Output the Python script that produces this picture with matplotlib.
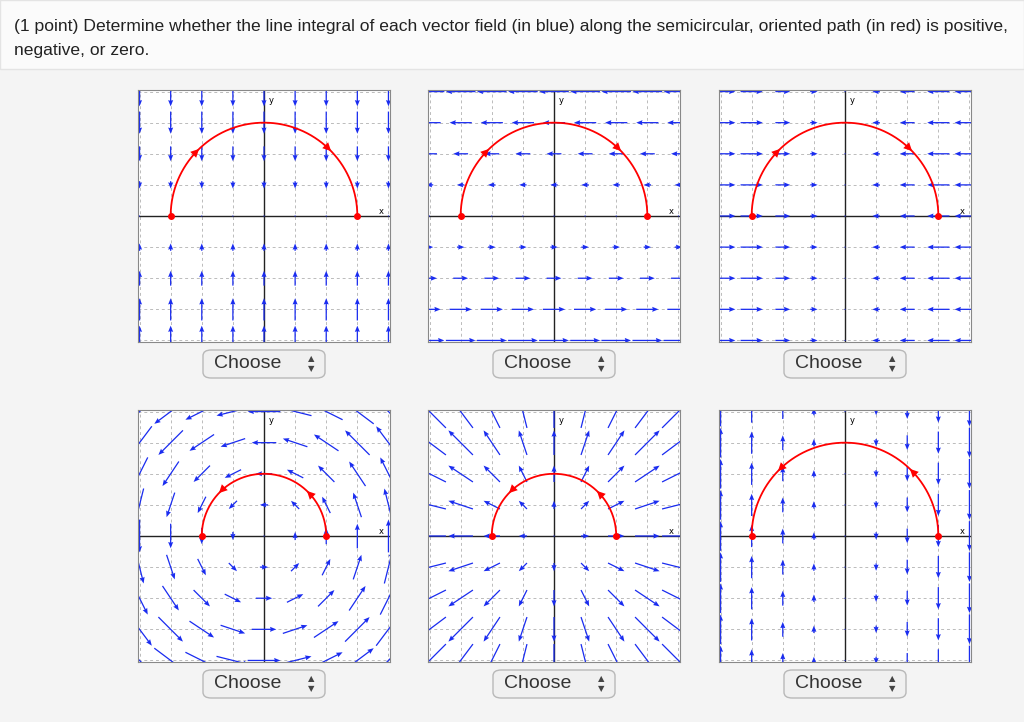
import numpy as np
import matplotlib
matplotlib.use('Agg')
import matplotlib.pyplot as plt
from matplotlib.patches import FancyBboxPatch, Rectangle

W, H = 1024, 722

# field coefficients: u = a*x + b*y, v = c*x + d*y
FIELD_U = [(0, 0), (0, -1), (-1, 0), (0, -1), (1, 0), (0, 0)]
FIELD_V = [(0, -1), (0, 0), (0, 0), (1, 0), (0, 1), (-1, 0)]
RADIUS = [3, 3, 3, 2, 2, 3]
CLOCKWISE = [True, True, True, False, False, False]
ARROW_SCALE = [4.2, 4.2, 4.2, 3.8, 3.8, 4.2]

PANEL_LEFT = [138, 428, 719]
PANEL_TOP = [90, 410]
PANEL_SIZE = 252

GRID = np.arange(-4, 5)

fig = plt.figure(figsize=(W / 100, H / 100), dpi=100, facecolor='#f4f4f4')
fig.patches.append(Rectangle((0, 0.905), 1, 0.095, transform=fig.transFigure,
                             facecolor='#fbfbfb', edgecolor='#e4e4e4', lw=1))
fig.text(14 / W, 1 - 27 / H,
         '(1 point) Determine whether the line integral of each vector field (in blue) along the semicircular, oriented path (in red) is positive,',
         fontsize=12.6, family='Liberation Sans', va='center', color='#222222')
fig.text(14 / W, 1 - 51 / H, 'negative, or zero.',
         fontsize=12.6, family='Liberation Sans', va='center', color='#222222')

X, Y = np.meshgrid(GRID, GRID)

for k in range(6):
    row, col = divmod(k, 3)
    left = PANEL_LEFT[col]
    top = PANEL_TOP[row]
    ax = fig.add_axes([left / W, 1 - (top + PANEL_SIZE) / H, PANEL_SIZE / W, PANEL_SIZE / H])
    ax.set_facecolor('white')
    ax.set_xlim(-4.05, 4.05)
    ax.set_ylim(-4.05, 4.05)
    ax.set_xticks([]); ax.set_yticks([])
    for s in ax.spines.values():
        s.set_color('#888888')
    for g in GRID:
        ax.axvline(g, color='#bbbbbb', ls=(0, (3, 3)), lw=0.7, zorder=0)
        ax.axhline(g, color='#bbbbbb', ls=(0, (3, 3)), lw=0.7, zorder=0)
    ax.axhline(0, color='#222222', lw=1, zorder=1)
    ax.axvline(0, color='#222222', lw=1, zorder=1)
    ax.text(0.15, 3.7, 'y', fontsize=6, va='center')
    ax.text(3.7, 0.15, 'x', fontsize=6, va='center')

    a, b = FIELD_U[k]
    c, d = FIELD_V[k]
    U = a * X + b * Y
    V = c * X + d * Y
    ax.quiver(X, Y, U, V, color='#1a2cf0', angles='xy', scale_units='xy',
              scale=ARROW_SCALE[k], pivot='mid', width=0.005, headwidth=4,
              headlength=5, headaxislength=4.5, zorder=2)

    r = RADIUS[k]
    th = np.linspace(0, np.pi, 200)
    ax.plot(r * np.cos(th), r * np.sin(th), color='red', lw=1.3, zorder=3)
    ax.plot([-r, r], [0, 0], 'o', color='red', ms=4, zorder=4)
    for t in (np.radians(135), np.radians(45)):
        p = np.array([r * np.cos(t), r * np.sin(t)])
        tang = np.array([np.sin(t), -np.cos(t)]) if CLOCKWISE[k] else np.array([-np.sin(t), np.cos(t)])
        ax.annotate('', xy=p + 0.05 * tang, xytext=p - 0.05 * tang,
                    arrowprops=dict(arrowstyle='-|>', color='red', mutation_scale=15, lw=0),
                    zorder=4)

    # "Choose" select box
    cx = left + PANEL_SIZE / 2
    cy = top + PANEL_SIZE + 22
    bw, bh = 122, 28
    fig.patches.append(FancyBboxPatch(((cx - bw / 2) / W, 1 - (cy + bh / 2) / H), bw / W, bh / H,
                                      boxstyle='round,pad=0,rounding_size=0.008',
                                      transform=fig.transFigure, facecolor='#f0f0f0',
                                      edgecolor='#b8b8b8', lw=1))
    fig.text((cx - bw / 2 + 11) / W, 1 - cy / H, 'Choose', fontsize=14,
             family='Liberation Sans', va='center', color='#333333')
    fig.text((cx + bw / 2 - 14) / W, 1 - (cy - 5) / H, '\u25b2', fontsize=6,
             ha='center', va='center', color='#444444')
    fig.text((cx + bw / 2 - 14) / W, 1 - (cy + 5) / H, '\u25bc', fontsize=6,
             ha='center', va='center', color='#444444')

fig.savefig('out.png', dpi=100, facecolor=fig.get_facecolor())
